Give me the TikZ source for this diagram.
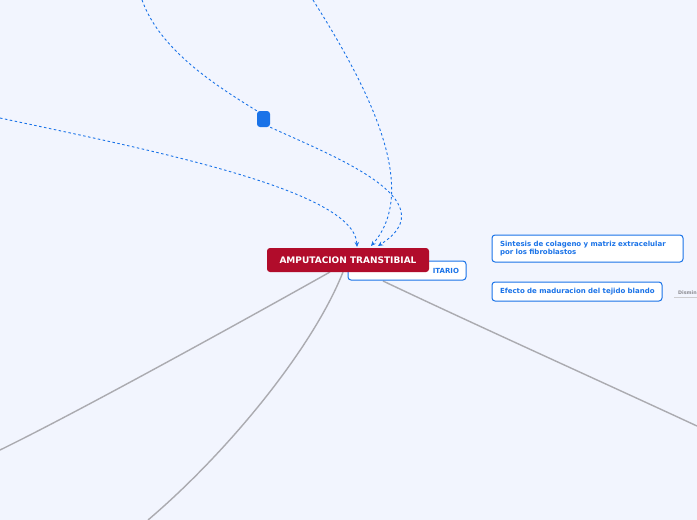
\documentclass[tikz,border=0pt]{standalone}
\usepackage{fontspec}
\setmainfont{DejaVu Sans}
\usetikzlibrary{arrows.meta}
\definecolor{bg}{HTML}{F2F5FE}
\definecolor{mainred}{HTML}{B10C2B}
\definecolor{linkblue}{HTML}{1A73E8}
\definecolor{greyline}{HTML}{ABABB0}
\definecolor{tinygrey}{HTML}{8A8A90}
\begin{document}
\begin{tikzpicture}[x=1pt,y=-1pt,
  mainbox/.style={fill=mainred, rounded corners=3pt, text=white,
    font=\fontsize{9}{11}\selectfont\bfseries, minimum width=162pt, minimum height=24pt, inner sep=0pt},
  subbox/.style={draw=linkblue, fill=white, rounded corners=3pt, line width=1pt, text=linkblue,
    font=\fontsize{7}{8.2}\selectfont\bfseries, inner sep=0pt},
  markbox/.style={fill=linkblue, rounded corners=3pt, minimum width=13pt, minimum height=16pt, inner sep=0pt},
  greyedge/.style={draw=greyline, line width=1.4pt},
  relline/.style={draw=linkblue, line width=0.9pt, dash pattern=on 2.5pt off 2.5pt, -{Stealth[length=5pt,width=4.5pt]}},
  relplain/.style={draw=linkblue, line width=0.9pt, dash pattern=on 2.5pt off 2.5pt}]
\useasboundingbox (0,0) rectangle (697,520);
\fill[bg] (0,0) rectangle (697,520);

% free ends
\coordinate (ga) at (330,272);
\coordinate (gb) at (343,272);
\coordinate (gc) at (383,281);
\coordinate (ea) at (0,450);
\coordinate (eb) at (148,520);
\coordinate (ec) at (697,426);
\coordinate (la) at (0,118);
\coordinate (lb) at (142,0);
\coordinate (ld) at (313,0);
\coordinate (ta) at (357,247);
\coordinate (tc) at (378,246);
\coordinate (td) at (371,246);

% grey branches
\draw[greyedge] (ga) .. controls (250,317) and (80,411) .. (ea);
\draw[greyedge] (gb) .. controls (313,348) and (228,452) .. (eb);
\draw[greyedge] (gc) .. controls (480,327) and (600,381) .. (ec);

% sub nodes
\node[subbox, minimum width=118pt, minimum height=19pt, text width=104pt, align=right] (sub) at (407,270.5) {ITARIO};
\node[subbox, minimum width=191pt, minimum height=27pt, text width=175pt, align=left] (sint) at (587.5,248.5)
  {Sintesis de colageno y matriz extracelular\\por los fibroblastos};
\node[subbox, minimum width=170pt, minimum height=19pt, text width=154pt, align=left] (efec) at (577,291.5)
  {\mbox{Efecto de maduracion del tejido blando}};
\draw[draw=greyline!60, line width=1pt] (674,297) coordinate (u1) -- (697,297) coordinate (u2);
\node[anchor=west, inner sep=0pt, text=tinygrey, font=\fontsize{4.8}{5}\selectfont\bfseries] (dism) at (678,292.5) {Dismin};

% marker
\node[markbox] (mark) at (263.5,119) {};

% main node
\node[mainbox] (main) at (348,260) {AMPUTACION TRANSTIBIAL};

% relationships
\draw[relline] (la) .. controls (150,150) and (355,190) .. (ta);
\draw[relplain] (lb) .. controls (160,50) and (215,85) .. (mark.north west);
\draw[relline] (mark.south east) .. controls (330,155) and (450,200) .. (tc);
\draw[relline] (ld) .. controls (370,90) and (420,190) .. (td);
\end{tikzpicture}
\end{document}
